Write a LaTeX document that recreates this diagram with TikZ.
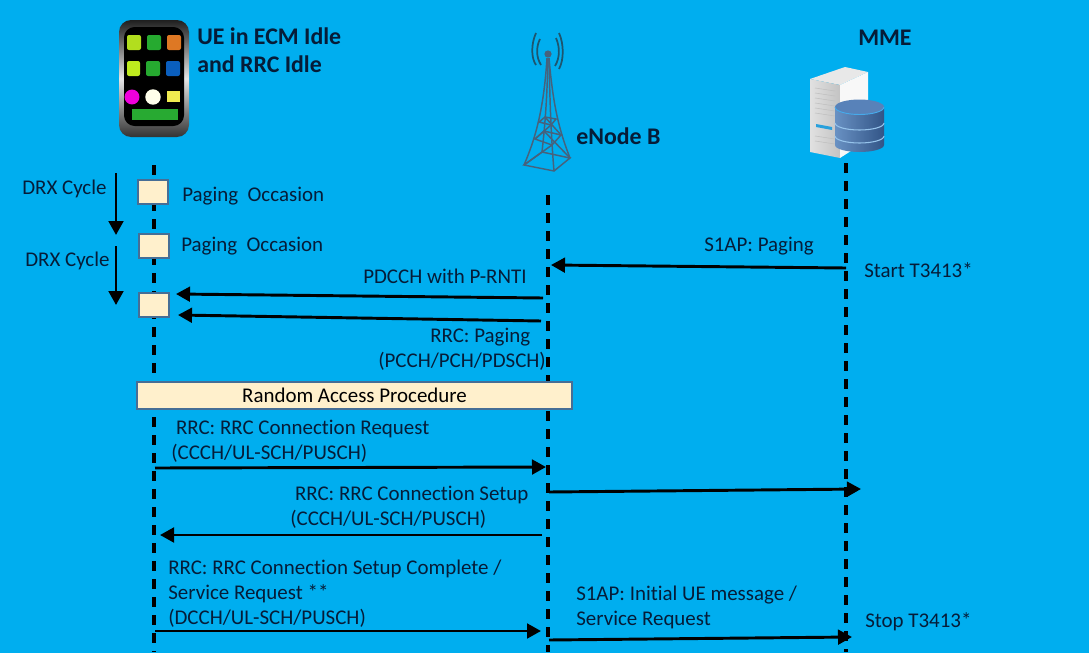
\documentclass[tikz,border=0pt]{standalone}
\usepackage{fontspec}
\setmainfont{Carlito}[Ligatures=CommonOff]
\usetikzlibrary{arrows.meta}
\definecolor{skyback}{RGB}{0,174,239}
\definecolor{inktext}{RGB}{6,28,56}
\definecolor{creambox}{RGB}{255,240,204}
\definecolor{boxedge}{RGB}{70,110,150}
\definecolor{towergray}{RGB}{70,98,125}
\definecolor{wavedark}{RGB}{30,85,110}
\tikzset{
  msg/.style={draw=black,line width=2.2pt,-{Triangle[length=10.5pt,width=11pt]}},
  lifeline/.style={draw=black,line width=2.4pt,dash pattern=on 7.5pt off 6pt},
  txt/.style={anchor=north west,inner sep=0.75pt,text=inktext,font=\fontsize{15.7}{18.8}\selectfont,align=left},
  head/.style={anchor=north west,inner sep=0.75pt,text=inktext,font=\fontsize{17.9}{21}\selectfont\bfseries,align=left},
  occasion/.style={draw=boxedge,line width=1.3pt,fill=creambox},
  towerline/.style={draw=towergray,line width=1.1pt},
  wave/.style={draw=wavedark,line width=1.3pt},
  appicon/.style={rounded corners=1.5pt},
  diskband/.style={left color={rgb,255:red,105;green,145;blue,195},right color={rgb,255:red,50;green,85;blue,135}}
}
\begin{document}
\begin{tikzpicture}[x=0.75pt,y=0.75pt,yscale=-1,xscale=1]
\path[fill=skyback] (0,0) rectangle (1089,653);
\useasboundingbox (0,0) rectangle (1089,653);

%Coordinates of lifelines
\coordinate (ueTop) at (154,165);
\coordinate (ueEnd) at (154,652);
\coordinate (enbTop) at (548,195);
\coordinate (enbEnd) at (548,652);
\coordinate (mmeTop) at (846,163);
\coordinate (mmeEnd) at (846,652);
\draw [lifeline] (ueTop) -- (ueEnd);
\draw [lifeline] (enbTop) -- (enbEnd);
\draw [lifeline] (mmeTop) -- (mmeEnd);

%Shape: Phone
\shade [rounded corners=9pt,top color=black!88,bottom color=black!80,middle color=white!90!black] (119,20) rectangle (189,137);
\draw [draw=none,fill=black,rounded corners=8pt] (124,27) rectangle (184,126);
\fill [appicon,fill={rgb,255:red,178;green,222;blue,30}] (127,35) rectangle (141,50);
\fill [appicon,fill={rgb,255:red,38;green,170;blue,48}] (147,35) rectangle (161,50);
\fill [appicon,fill={rgb,255:red,222;green,120;blue,36}] (167,35) rectangle (181,50);
\fill [appicon,fill={rgb,255:red,190;green,235;blue,30}] (127,61) rectangle (140,76);
\fill [appicon,fill={rgb,255:red,38;green,170;blue,48}] (146,61) rectangle (160,76);
\fill [appicon,fill={rgb,255:red,10;green,95;blue,190}] (166,61) rectangle (180,76);
\fill [fill={rgb,255:red,240;green,0;blue,220}] (132,97) circle (5.6pt);
\fill [fill={rgb,255:red,255;green,255;blue,235}] (153,97) circle (5.8pt);
\fill [fill={rgb,255:red,240;green,235;blue,80}] (167,91) rectangle (180,102);
\fill [fill={rgb,255:red,40;green,170;blue,50}] (132,109) rectangle (178,120);

%Shape: Tower
\draw [towerline] (547,58) .. controls (544,105) and (537,135) .. (524,165);
\draw [towerline] (549,58) .. controls (550,105) and (551,135) .. (554,171);
\draw [towerline] (549,58) .. controls (553,105) and (559,130) .. (570,158);
\draw [towerline] (548,58) .. controls (547,100) and (545,125) .. (542,152);
\draw [towerline] (524,165) -- (554,171) -- (570,158) -- (542,152) -- cycle;
\draw [towerline] (535,139) -- (552,145) -- (561,135) -- (544,131) -- cycle;
\draw [towerline] (539,122) -- (551,125) -- (556,119) -- (545,117) -- cycle;
\draw [towerline] (524,165) -- (552,145);
\draw [towerline] (570,158) -- (544,131);
\draw [towerline] (535,139) -- (551,125);
\draw [towerline] (561,135) -- (545,117);
\fill [fill=towergray] (548,54) circle (2.7pt);
\draw [wave] (540,39) .. controls (536,47) and (536,57) .. (541,65);
\draw [wave] (536,33) .. controls (531,44) and (531,58) .. (536,65);
\draw [wave] (556,38) .. controls (560,47) and (560,58) .. (555,66);
\draw [wave] (559,33) .. controls (564,44) and (564,60) .. (559,69);

%Shape: Server
\fill [fill={rgb,255:red,232;green,232;blue,232}] (810,79) -- (845,67) -- (868,72) -- (840,85) -- cycle;
\shade [left color={rgb,255:red,225;green,225;blue,225},right color={rgb,255:red,195;green,195;blue,195}] (810,79) -- (840,85) -- (840,158) -- (810,152) -- cycle;
\fill [fill={rgb,255:red,248;green,248;blue,248}] (840,85) -- (868,72) -- (868,140) -- (840,158) -- cycle;
\fill [fill={rgb,255:red,40;green,160;blue,220}] (816,124) -- (832,127) -- (832,130) -- (816,127) -- cycle;
\foreach \yy in {88,93,98,103,108,113,136,141} {
  \draw [draw=black!25,line width=0.4pt] (815,\yy) -- (835,\yy+3);
}
%Shape: Database
\shade [diskband] (835,107) -- (835,145) arc [start angle=180,end angle=0,x radius=24.5,y radius=7] -- (884,107) -- cycle;
\draw [draw={rgb,255:red,150;green,195;blue,235},line width=0.8pt] (835,123) arc [start angle=180,end angle=0,x radius=24.5,y radius=7];
\draw [draw={rgb,255:red,150;green,195;blue,235},line width=0.8pt] (835,136) arc [start angle=180,end angle=0,x radius=24.5,y radius=7];
\fill [fill={rgb,255:red,88;green,130;blue,185}] (859.5,107) ellipse [x radius=24.5,y radius=7.5];
\draw [draw={rgb,255:red,70;green,170;blue,235},line width=0.7pt] (835,107) arc [start angle=180,end angle=0,x radius=24.5,y radius=7.5];

%Shape: Rectangle
\node (occasionA) [occasion,minimum width=22.5pt,minimum height=18pt,inner sep=0pt] at (153,192) {};
\node (occasionB) [occasion,minimum width=22.5pt,minimum height=18pt,inner sep=0pt] at (154,246) {};
\node (occasionC) [occasion,minimum width=22.5pt,minimum height=18pt,inner sep=0pt] at (154,305) {};
\node (randomBox) [occasion,minimum width=326pt,minimum height=20pt,inner sep=0pt,text=black,font=\fontsize{15.7}{18.8}\selectfont] at (354.5,395.5) {Random Access Procedure};

%Straight Lines
\coordinate (drxA) at (116,173);
\coordinate (drxB) at (116,235);
\coordinate (drxC) at (116,246);
\coordinate (drxD) at (116,305);
\draw [msg] (drxA) -- (drxB);
\draw [msg] (drxC) -- (drxD);
\coordinate (pdcchFrom) at (543,298);
\coordinate (pdcchTo) at (176,294);
\draw [msg] (pdcchFrom) -- (pdcchTo);
\coordinate (pagingFrom) at (541,321);
\coordinate (pagingTo) at (178,315);
\draw [msg] (pagingFrom) -- (pagingTo);
\coordinate (sPagingFrom) at (846,268);
\coordinate (sPagingTo) at (551,265);
\draw [msg] (sPagingFrom) -- (sPagingTo);
\coordinate (requestFrom) at (155,468);
\coordinate (requestTo) at (546,467);
\draw [msg] (requestFrom) -- (requestTo);
\coordinate (setupFrom) at (549,492);
\coordinate (setupTo) at (861,489);
\draw [msg] (setupFrom) -- (setupTo);
\coordinate (setupBackFrom) at (542,535);
\coordinate (setupBackTo) at (160,535);
\draw [msg] (setupBackFrom) -- (setupBackTo);
\coordinate (completeFrom) at (155,631);
\coordinate (completeTo) at (541,631);
\draw [msg] (completeFrom) -- (completeTo);
\coordinate (initialFrom) at (549,640);
\coordinate (initialTo) at (852,637);
\draw [msg] (initialFrom) -- (initialTo);

% Text Node
\node (ueLabel) [head] at (196,26) {UE in ECM Idle\\and RRC Idle};
% Text Node
\node (enbLabel) [head] at (575,126) {eNode B};
% Text Node
\node (mmeLabel) [head] at (857,29) {MME};
% Text Node
\node (drxLabelA) [txt] at (21,179) {DRX Cycle};
% Text Node
\node (drxLabelB) [txt] at (24,251) {DRX Cycle};
% Text Node
\node (poLabelA) [txt] at (181,186) {Paging\ \ Occasion};
% Text Node
\node (poLabelB) [txt] at (180,236) {Paging\ \ Occasion};
% Text Node
\node (sPagingLabel) [txt] at (703,236) {S1AP: Paging};
% Text Node
\node (startLabel) [txt] at (863,261) {Start T3413*};
% Text Node
\node (pdcchLabel) [txt] at (362,268) {PDCCH with P-RNTI};
% Text Node
\node (pagingLabel) [txt] at (377,327) {\hspace{39pt}RRC: Paging\\(PCCH/PCH/PDSCH)};
% Text Node
\node (requestLabel) [txt] at (170,419) {\ RRC: RRC Connection Request\\(CCCH/UL-SCH/PUSCH)};
% Text Node
\node (setupLabel) [txt] at (289,485) {\ RRC: RRC Connection Setup\\(CCCH/UL-SCH/PUSCH)};
% Text Node
\node (completeLabel) [txt] at (167,559) {RRC: RRC Connection Setup Complete /\\Service Request **\\(DCCH/UL-SCH/PUSCH)};
% Text Node
\node (initialLabel) [txt] at (575,585) {S1AP: Initial UE message /\\Service Request};
% Text Node
\node (stopLabel) [txt] at (864,611) {Stop T3413*};

\end{tikzpicture}
\end{document}
